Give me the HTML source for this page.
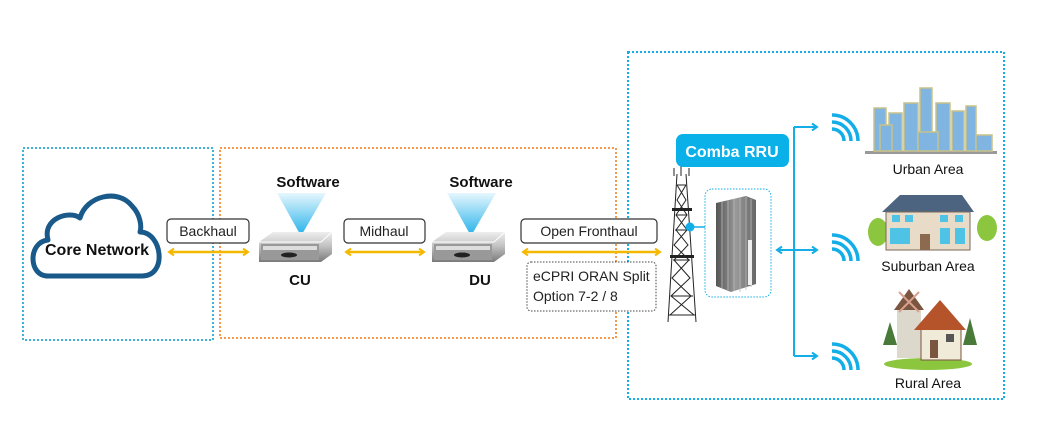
<!DOCTYPE html>
<html><head><meta charset="utf-8"><style>
html,body{margin:0;padding:0;background:#fff;}
svg{display:block;font-family:"Liberation Sans","DejaVu Sans",sans-serif;}
</style></head><body>
<svg width="1049" height="435" viewBox="0 0 1049 435" xmlns="http://www.w3.org/2000/svg">
<defs>
<linearGradient id="beam" x1="0" y1="0" x2="0" y2="1">
<stop offset="0" stop-color="#e6f7fd"/><stop offset="1" stop-color="#22b0ea"/></linearGradient>
<linearGradient id="srv" x1="0" y1="0" x2="0" y2="1">
<stop offset="0" stop-color="#eeeeee"/><stop offset="0.45" stop-color="#c4c4c4"/><stop offset="1" stop-color="#7a7a7a"/></linearGradient>
<linearGradient id="rru" x1="0" y1="0" x2="1" y2="0">
<stop offset="0" stop-color="#555"/><stop offset="0.5" stop-color="#999"/><stop offset="1" stop-color="#666"/></linearGradient>
<marker id="ag" markerWidth="8" markerHeight="8" refX="6" refY="4" orient="auto-start-reverse" markerUnits="userSpaceOnUse"><path d="M1,0.5 L6,4 L1,7.5" fill="none" stroke="#f5b800" stroke-width="2"/></marker>
<marker id="ab" markerWidth="8" markerHeight="8" refX="6" refY="4" orient="auto-start-reverse" markerUnits="userSpaceOnUse"><path d="M1,0.5 L6,4 L1,7.5" fill="none" stroke="#13aee8" stroke-width="2"/></marker>
<g id="server">
<path d="M0,10 L14,0 L73,0 L73,22 L62,30 L0,30 Z" fill="url(#srv)"/>
<rect x="2" y="12" width="58" height="16" fill="#999"/>
<rect x="4" y="14" width="54" height="4" fill="#ddd"/>
<ellipse cx="30" cy="23" rx="8" ry="2.5" fill="#222"/>
<path d="M0,10 L62,10 L73,0" fill="none" stroke="#fff" stroke-width="1"/>
</g>
<g id="wifi" fill="none" stroke="#13aee8" stroke-width="3.5">
<path d="M6,12 A12,12 0 0 1 18,24"/>
<path d="M6,5 A19,19 0 0 1 25,24"/>
<path d="M6,-2 A26,26 0 0 1 32,24"/>
</g>
</defs>

<rect x="23" y="148" width="190" height="192" fill="none" stroke="#3fb2d8" stroke-width="2" stroke-dasharray="2,2"/>
<rect x="220" y="148" width="396" height="190" fill="none" stroke="#f59a4c" stroke-width="2" stroke-dasharray="2,2"/>
<rect x="628" y="52" width="376" height="347" fill="none" stroke="#13aee8" stroke-width="2" stroke-dasharray="2,2"/>

<path d="M48,276 C28,276 28,242 48,240 C42,218 70,210 80,218 C86,196 118,188 132,206 C140,214 142,226 140,232 C162,232 168,276 142,276 Z" fill="#fff" stroke="#1a5a8a" stroke-width="5" stroke-linejoin="round"/>
<text x="97" y="255" font-size="16" font-weight="bold" text-anchor="middle" fill="#111">Core Network</text>

<rect x="167" y="219" width="82" height="24" rx="4" fill="#fff" stroke="#333" stroke-width="1.2"/>
<text x="208" y="236" font-size="14" text-anchor="middle" fill="#222">Backhaul</text>
<rect x="344" y="219" width="81" height="24" rx="4" fill="#fff" stroke="#333" stroke-width="1.2"/>
<text x="384" y="236" font-size="14" text-anchor="middle" fill="#222">Midhaul</text>
<rect x="521" y="219" width="136" height="24" rx="4" fill="#fff" stroke="#333" stroke-width="1.2"/>
<text x="589" y="236" font-size="14" text-anchor="middle" fill="#222">Open Fronthaul</text>
<rect x="527" y="262" width="129" height="49" rx="4" fill="#fff" stroke="#444" stroke-width="1" stroke-dasharray="1.5,1.5"/>
<text x="533" y="281" font-size="14" fill="#222">eCPRI ORAN Split</text>
<text x="533" y="301" font-size="14" fill="#222">Option 7-2 / 8</text>

<line x1="169" y1="252" x2="248" y2="252" stroke="#f5b800" stroke-width="2.5" marker-start="url(#ag)" marker-end="url(#ag)"/>
<line x1="346" y1="252" x2="424" y2="252" stroke="#f5b800" stroke-width="2.5" marker-start="url(#ag)" marker-end="url(#ag)"/>
<line x1="523" y1="252" x2="660" y2="252" stroke="#f5b800" stroke-width="2.5" marker-start="url(#ag)" marker-end="url(#ag)"/>

<polygon points="277,193 326,193 301,236" fill="url(#beam)"/>
<polygon points="447,193 496,193 471,236" fill="url(#beam)"/>
<use href="#server" x="259" y="232"/>
<use href="#server" x="432" y="232"/>
<text x="308" y="187" font-size="15" font-weight="bold" text-anchor="middle" fill="#111">Software</text>
<text x="481" y="187" font-size="15" font-weight="bold" text-anchor="middle" fill="#111">Software</text>
<text x="300" y="285" font-size="15" font-weight="bold" text-anchor="middle" fill="#111">CU</text>
<text x="480" y="285" font-size="15" font-weight="bold" text-anchor="middle" fill="#111">DU</text>

<g stroke="#222" stroke-width="1" fill="none">
<path d="M677,174 L668,322 M686,174 L696,322"/>
<path d="M677,185 L686,200 L676,215 L687,230 L674,245 L689,260 L672,278 L691,296 L670,315 M686,185 L677,200 L687,215 L676,230 L688,245 L674,260 L690,278 L671,296 L694,315"/>
<path d="M677,185 H686 M676,215 H687 M675,230 H688 M673,260 H690 M671,296 H693 M669,315 H695"/>
<path d="M674,176 V168 M681,176 V165 M689,176 V168"/>
</g>
<rect x="672" y="208" width="20" height="3" fill="#222"/>
<rect x="670" y="255" width="24" height="3" fill="#222"/>
<circle cx="690" cy="227" r="4.5" fill="#13aee8"/>
<line x1="690" y1="227" x2="705" y2="227" stroke="#13aee8" stroke-width="1.5"/>

<rect x="676" y="134" width="113" height="33" rx="7" fill="#0ab0e8"/>
<text x="732" y="157" font-size="16" font-weight="bold" text-anchor="middle" fill="#fff">Comba RRU</text>
<rect x="705" y="189" width="66" height="108" rx="7" fill="#fff" stroke="#13aee8" stroke-width="1" stroke-dasharray="1.5,1.5"/>
<path d="M716,203 L746,196 L756,200 L756,284 L731,292 L716,286 Z" fill="url(#rru)"/>
<g stroke="#bbb" stroke-width="0.8"><path d="M722,202 V288 M728,200 V290 M734,199 V291 M740,198 V292 M746,197 V290 M751,199 V287"/></g>
<rect x="748" y="240" width="4" height="45" fill="#eee"/>

<line x1="794" y1="127" x2="794" y2="356" stroke="#13aee8" stroke-width="2"/>
<line x1="794" y1="127" x2="817" y2="127" stroke="#13aee8" stroke-width="2" marker-end="url(#ab)"/>
<line x1="794" y1="356" x2="817" y2="356" stroke="#13aee8" stroke-width="2" marker-end="url(#ab)"/>
<line x1="777" y1="250" x2="817" y2="250" stroke="#13aee8" stroke-width="2" marker-start="url(#ab)" marker-end="url(#ab)"/>
<use href="#wifi" x="826" y="117"/>
<use href="#wifi" x="826" y="237"/>
<use href="#wifi" x="826" y="346"/>

<rect x="865" y="151" width="132" height="3" fill="#999"/>
<g fill="#7fb5e0" stroke="#c9c28a" stroke-width="1.5">
<rect x="874" y="108" width="12" height="43"/><rect x="889" y="113" width="13" height="38"/>
<rect x="904" y="103" width="14" height="48"/><rect x="920" y="88" width="12" height="63"/>
<rect x="936" y="103" width="14" height="48"/><rect x="952" y="111" width="12" height="40"/>
<rect x="966" y="106" width="10" height="45"/><rect x="976" y="135" width="16" height="16"/>
<rect x="880" y="125" width="12" height="26"/><rect x="918" y="132" width="20" height="19"/>
</g>
<text x="928" y="174" font-size="14" text-anchor="middle" fill="#111">Urban Area</text>

<ellipse cx="878" cy="232" rx="10" ry="14" fill="#8cc63f"/>
<ellipse cx="987" cy="228" rx="10" ry="13" fill="#8cc63f"/>
<polygon points="882,212 900,195 962,195 974,212" fill="#4d6480"/>
<rect x="886" y="212" width="84" height="38" fill="#e8dcc8" stroke="#7a6a5a" stroke-width="1"/>
<rect x="890" y="228" width="20" height="16" fill="#4fc3e6"/>
<rect x="940" y="228" width="10" height="16" fill="#4fc3e6"/><rect x="955" y="228" width="10" height="16" fill="#4fc3e6"/>
<rect x="892" y="215" width="8" height="7" fill="#4fc3e6"/><rect x="905" y="215" width="8" height="7" fill="#4fc3e6"/>
<rect x="940" y="215" width="8" height="7" fill="#4fc3e6"/><rect x="955" y="215" width="8" height="7" fill="#4fc3e6"/>
<rect x="920" y="234" width="10" height="16" fill="#8b6a50"/>
<text x="928" y="271" font-size="14" text-anchor="middle" fill="#111">Suburban Area</text>

<ellipse cx="928" cy="364" rx="44" ry="6" fill="#8cc63f"/>
<polygon points="883,345 890,322 897,345" fill="#4a7a3a"/>
<polygon points="963,345 970,318 977,345" fill="#4a7a3a"/>
<rect x="897" y="308" width="24" height="50" fill="#ddd8cc"/>
<polygon points="894,310 909,289 924,310" fill="#7a5540"/>
<path d="M899,292 L919,312 M919,292 L899,312" stroke="#d9a090" stroke-width="2"/>
<rect x="921" y="325" width="40" height="35" fill="#f0ead8" stroke="#7a5540" stroke-width="1"/>
<polygon points="914,330 940,300 966,330" fill="#b5532a"/>
<rect x="930" y="340" width="8" height="18" fill="#7a5540"/>
<rect x="946" y="334" width="8" height="8" fill="#555"/>
<text x="928" y="388" font-size="14" text-anchor="middle" fill="#111">Rural Area</text>
</svg>
</body></html>
